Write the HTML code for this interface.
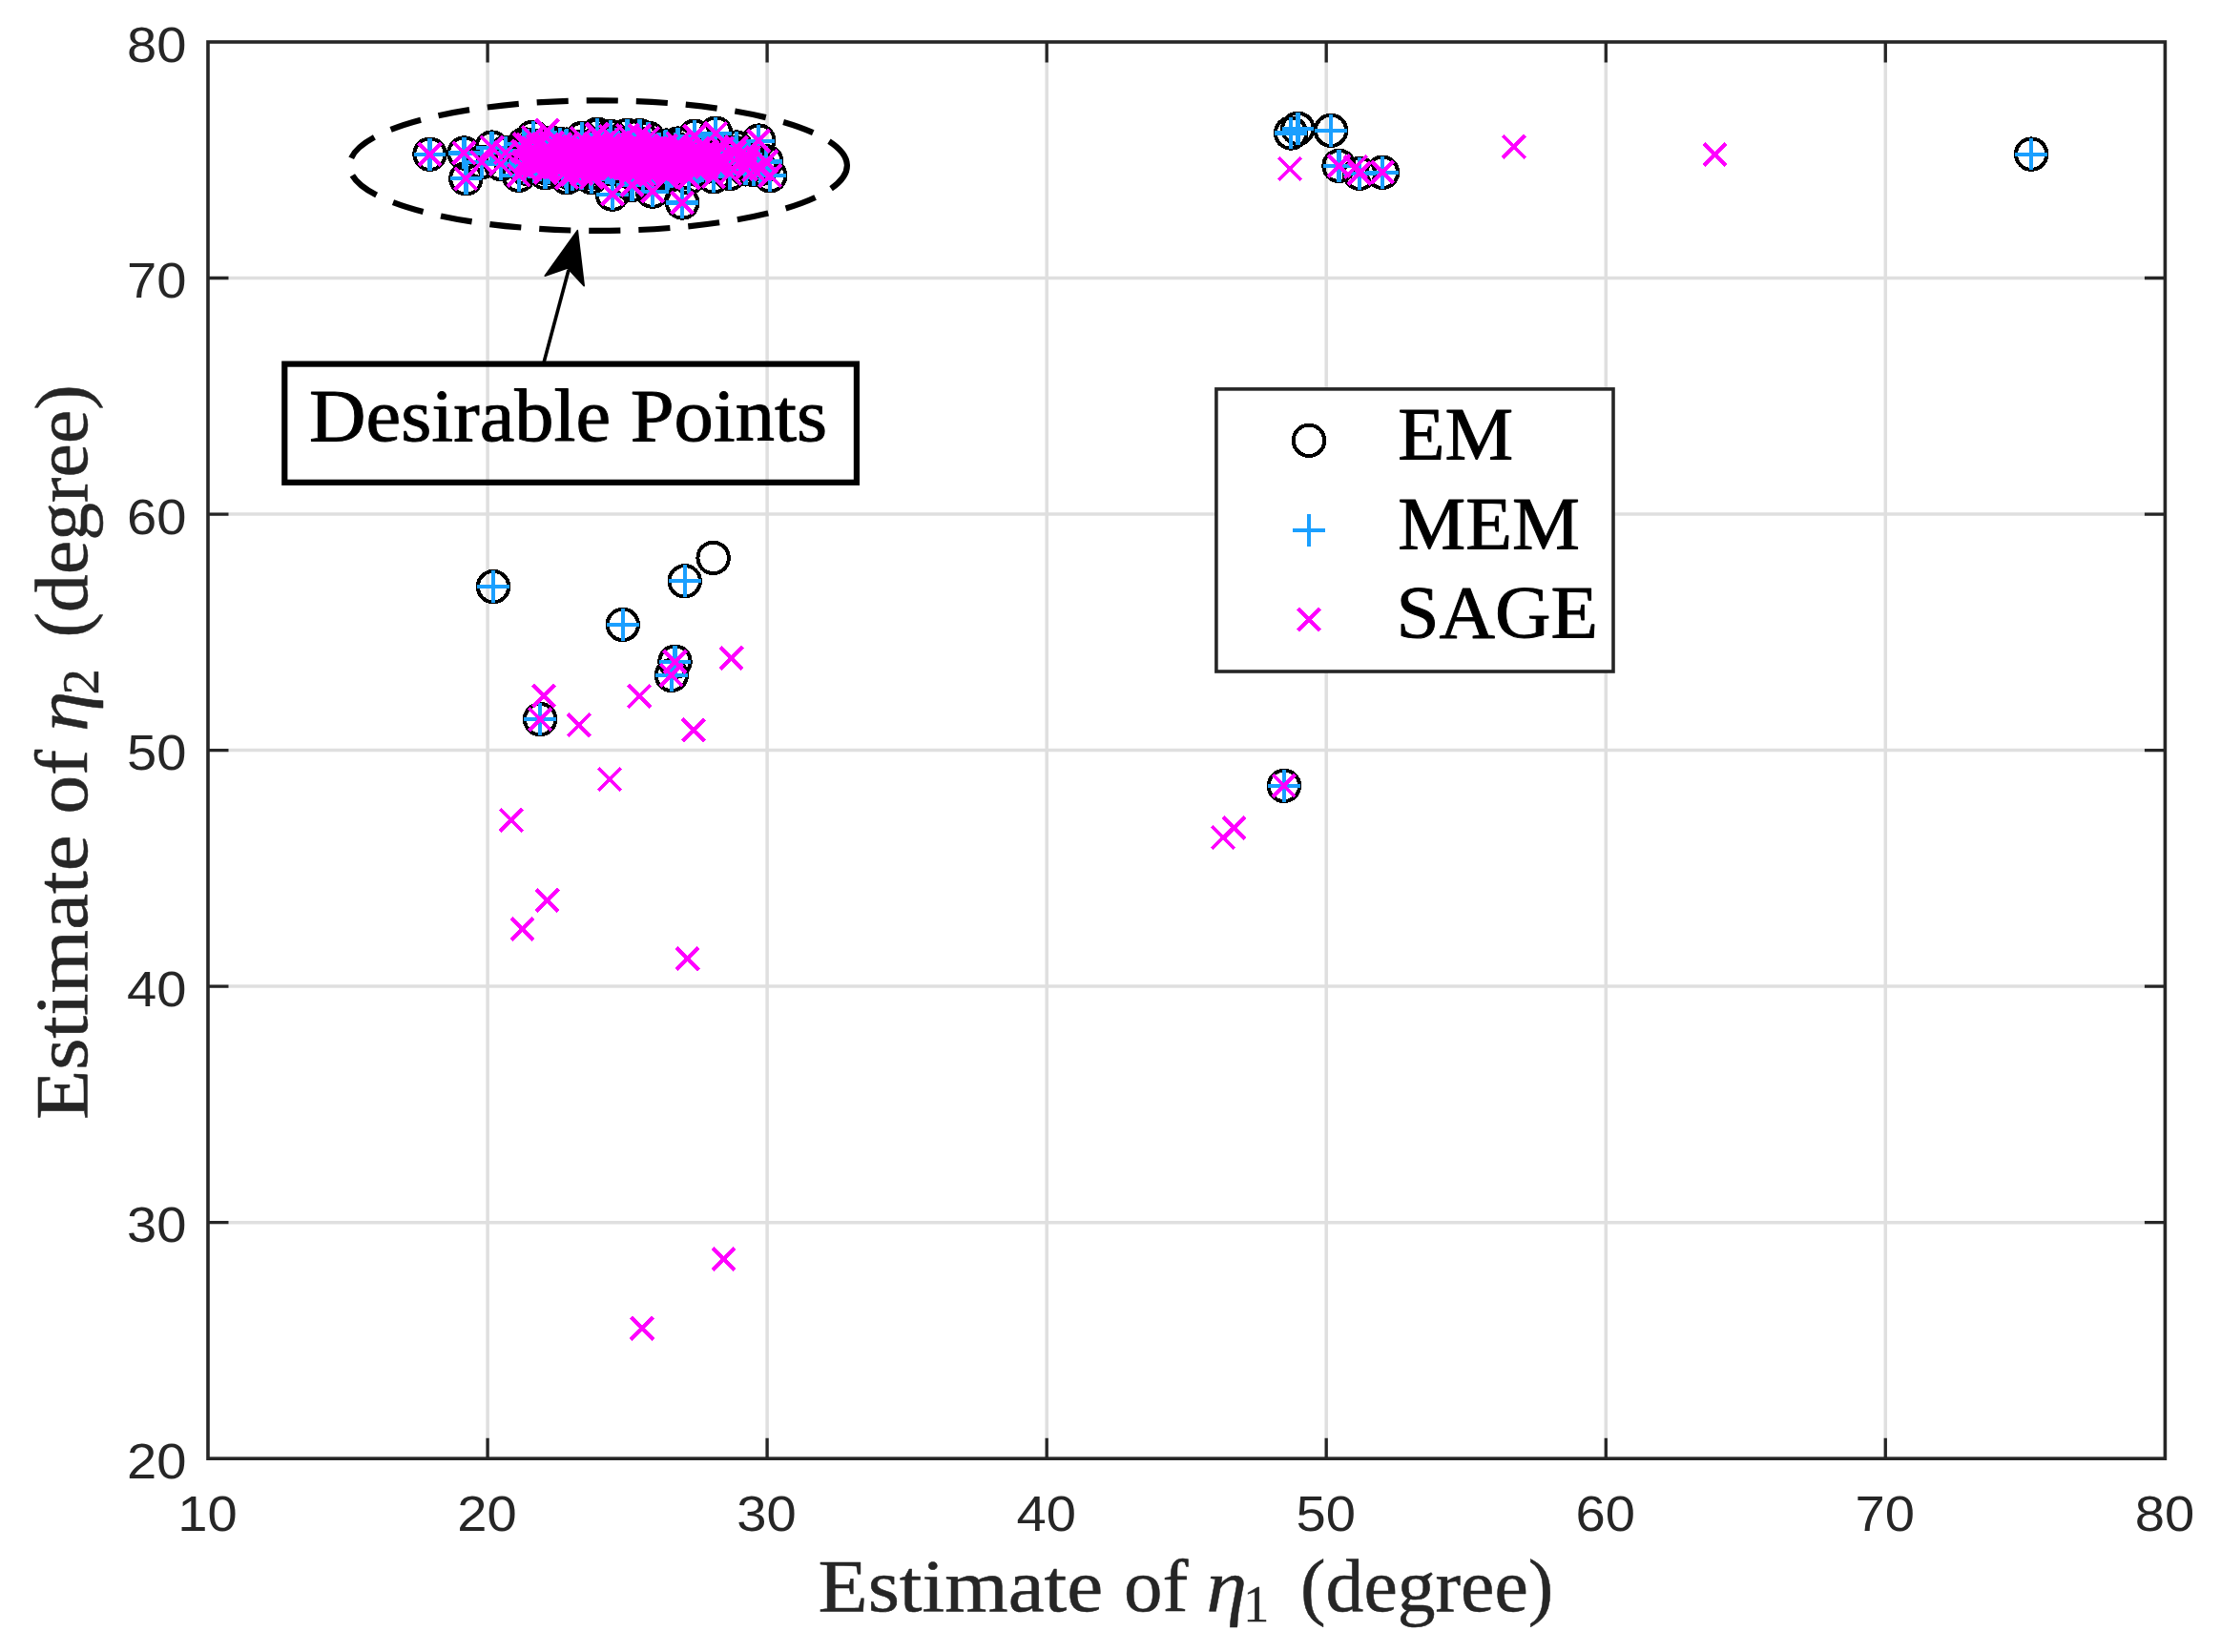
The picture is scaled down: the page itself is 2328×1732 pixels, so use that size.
<!DOCTYPE html>
<html lang="en"><head><meta charset="utf-8"><title>Estimate of eta1 vs eta2</title>
<style>html,body{margin:0;padding:0;background:#fff}body{width:2328px;height:1732px;overflow:hidden}svg{display:block}.tk{font-family:"Liberation Sans",sans-serif;font-size:52.5px;fill:#262626}.sf{font-family:"Liberation Serif",serif;font-size:78px;stroke-width:0.9px;stroke-linejoin:round}.k{stroke:#000}.lb .sf{stroke-width:0.5px}</style></head><body>
<svg width="2328" height="1732" viewBox="0 0 2328 1732">
<defs>
<circle id="c" r="16.2" fill="none" stroke="#000" stroke-width="4.0"/>
<path id="p" d="M-16.8 0H16.8M0 -16.8V16.8" fill="none" stroke="#1a9fff" stroke-width="4.2"/>
<path id="x" d="M-11.6 -11.6L11.6 11.6M-11.6 11.6L11.6 -11.6" fill="none" stroke="#ff00ff" stroke-width="4.1"/>
</defs>
<rect width="2328" height="1732" fill="#fff"/>
<path d="M511.1 44.0V1529.2M804.1 44.0V1529.2M1097.2 44.0V1529.2M1390.2 44.0V1529.2M1683.3 44.0V1529.2M1976.3 44.0V1529.2M218.0 1281.7H2269.4M218.0 1034.1H2269.4M218.0 786.6H2269.4M218.0 539.1H2269.4M218.0 291.5H2269.4" stroke="#dfdfdf" stroke-width="3.5" fill="none"/>
<path d="M511.1 1529.2v-21.5M511.1 44.0v21.5M804.1 1529.2v-21.5M804.1 44.0v21.5M1097.2 1529.2v-21.5M1097.2 44.0v21.5M1390.2 1529.2v-21.5M1390.2 44.0v21.5M1683.3 1529.2v-21.5M1683.3 44.0v21.5M1976.3 1529.2v-21.5M1976.3 44.0v21.5M218.0 1281.7h21.5M2269.4 1281.7h-21.5M218.0 1034.1h21.5M2269.4 1034.1h-21.5M218.0 786.6h21.5M2269.4 786.6h-21.5M218.0 539.1h21.5M2269.4 539.1h-21.5M218.0 291.5h21.5M2269.4 291.5h-21.5" stroke="#262626" stroke-width="3.3" fill="none"/>
<rect x="218.0" y="44.0" width="2051.4" height="1485.2" fill="none" stroke="#262626" stroke-width="3.6"/>
<g shape-rendering="crispEdges"><use href="#c" x="450.5" y="161.7"/><use href="#c" x="486.4" y="160.5"/><use href="#c" x="488.4" y="187.3"/><use href="#c" x="515.6" y="154.6"/><use href="#c" x="558.7" y="143.7"/><use href="#c" x="543.8" y="183.8"/><use href="#c" x="571.6" y="181.3"/><use href="#c" x="594.3" y="186.3"/><use href="#c" x="626.0" y="141.7"/><use href="#c" x="547.8" y="158.5"/><use href="#c" x="593.4" y="152.6"/><use href="#c" x="641.8" y="203.6"/><use href="#c" x="683.9" y="200.6"/><use href="#c" x="715.1" y="212.5"/><use href="#c" x="747.8" y="185.3"/><use href="#c" x="807.2" y="184.3"/><use href="#c" x="781.5" y="177.4"/><use href="#c" x="728.0" y="142.7"/><use href="#c" x="750.3" y="139.7"/><use href="#c" x="795.3" y="147.6"/><use href="#c" x="803.3" y="169.4"/><use href="#c" x="626.0" y="140.7"/><use href="#c" x="657.6" y="141.7"/><use href="#c" x="670.5" y="142.2"/><use href="#c" x="679.4" y="144.7"/><use href="#c" x="698.3" y="152.6"/><use href="#c" x="662.6" y="194.0"/><use href="#c" x="722.0" y="186.3"/><use href="#c" x="699.0" y="185.3"/><use href="#c" x="505.0" y="170.0"/><use href="#c" x="525.0" y="172.0"/><use href="#c" x="530.0" y="160.0"/><use href="#c" x="610.0" y="145.0"/><use href="#c" x="640.0" y="143.0"/><use href="#c" x="770.0" y="160.0"/><use href="#c" x="785.0" y="165.0"/><use href="#c" x="790.0" y="178.0"/><use href="#c" x="765.0" y="182.0"/><use href="#c" x="600.0" y="183.0"/><use href="#c" x="620.0" y="186.0"/><use href="#c" x="633.7" y="169.3"/><use href="#c" x="635.3" y="163.5"/><use href="#c" x="595.9" y="163.4"/><use href="#c" x="710.3" y="170.2"/><use href="#c" x="706.1" y="168.9"/><use href="#c" x="670.1" y="167.7"/><use href="#c" x="554.7" y="170.1"/><use href="#c" x="676.4" y="170.0"/><use href="#c" x="553.3" y="151.9"/><use href="#c" x="598.2" y="161.7"/><use href="#c" x="665.1" y="166.0"/><use href="#c" x="677.2" y="162.0"/><use href="#c" x="665.3" y="169.1"/><use href="#c" x="611.0" y="177.2"/><use href="#c" x="679.2" y="175.0"/><use href="#c" x="613.3" y="160.1"/><use href="#c" x="628.7" y="164.8"/><use href="#c" x="683.4" y="168.4"/><use href="#c" x="622.9" y="158.8"/><use href="#c" x="618.8" y="173.9"/><use href="#c" x="602.8" y="166.8"/><use href="#c" x="671.9" y="156.0"/><use href="#c" x="650.7" y="175.2"/><use href="#c" x="630.0" y="164.9"/><use href="#c" x="602.2" y="168.5"/><use href="#c" x="644.5" y="155.6"/><use href="#c" x="694.4" y="171.6"/><use href="#c" x="701.0" y="177.1"/><use href="#c" x="668.3" y="167.2"/><use href="#c" x="575.2" y="168.8"/><use href="#c" x="613.7" y="162.1"/><use href="#c" x="577.2" y="157.8"/><use href="#c" x="618.3" y="174.4"/><use href="#c" x="566.4" y="166.0"/><use href="#c" x="728.8" y="171.6"/><use href="#c" x="668.0" y="161.2"/><use href="#c" x="585.3" y="171.5"/><use href="#c" x="709.7" y="168.3"/><use href="#c" x="661.8" y="169.3"/><use href="#c" x="737.3" y="172.1"/><use href="#c" x="677.0" y="170.4"/><use href="#c" x="560.2" y="173.2"/><use href="#c" x="701.5" y="170.7"/><use href="#c" x="612.5" y="171.1"/><use href="#c" x="637.7" y="172.9"/><use href="#c" x="574.6" y="175.8"/><use href="#c" x="678.9" y="165.5"/><use href="#c" x="666.2" y="170.9"/><use href="#c" x="654.7" y="174.1"/><use href="#c" x="611.0" y="162.3"/><use href="#c" x="706.3" y="167.3"/><use href="#c" x="598.7" y="171.6"/><use href="#c" x="730.1" y="164.5"/><use href="#c" x="570.7" y="163.5"/><use href="#c" x="639.7" y="163.7"/><use href="#c" x="726.7" y="160.3"/><use href="#c" x="718.6" y="158.5"/><use href="#c" x="603.9" y="169.5"/><use href="#c" x="711.2" y="173.2"/><use href="#c" x="667.3" y="167.3"/><use href="#c" x="656.5" y="170.2"/><use href="#c" x="638.1" y="167.7"/><use href="#c" x="680.1" y="166.6"/><use href="#c" x="690.8" y="170.8"/><use href="#c" x="760.6" y="170.5"/><use href="#c" x="624.1" y="162.9"/><use href="#c" x="647.3" y="172.4"/><use href="#c" x="629.2" y="168.3"/><use href="#c" x="585.1" y="166.4"/><use href="#c" x="670.3" y="168.1"/><use href="#c" x="623.9" y="170.1"/><use href="#c" x="663.8" y="162.6"/><use href="#c" x="784.1" y="171.2"/><use href="#c" x="617.0" y="164.6"/><use href="#c" x="635.4" y="165.3"/><use href="#c" x="620.7" y="172.5"/><use href="#c" x="582.6" y="164.2"/><use href="#c" x="701.4" y="173.0"/><use href="#c" x="731.5" y="155.7"/><use href="#c" x="628.2" y="163.2"/><use href="#c" x="682.9" y="174.3"/><use href="#c" x="709.0" y="157.0"/><use href="#c" x="686.3" y="156.3"/><use href="#c" x="657.8" y="174.5"/><use href="#c" x="639.6" y="167.1"/><use href="#c" x="692.6" y="167.8"/><use href="#c" x="643.0" y="176.6"/><use href="#c" x="706.7" y="165.1"/><use href="#c" x="583.8" y="171.1"/><use href="#c" x="633.1" y="166.6"/><use href="#c" x="687.5" y="168.3"/><use href="#c" x="683.8" y="156.0"/><use href="#c" x="563.5" y="168.6"/><use href="#c" x="594.1" y="157.7"/><use href="#c" x="565.7" y="173.2"/><use href="#c" x="689.8" y="177.1"/><use href="#c" x="595.5" y="164.9"/><use href="#c" x="584.1" y="170.0"/><use href="#c" x="737.0" y="161.5"/><use href="#c" x="735.4" y="174.6"/><use href="#c" x="638.0" y="152.0"/><use href="#c" x="726.8" y="166.9"/><use href="#c" x="614.2" y="168.1"/><use href="#c" x="671.0" y="176.9"/><use href="#c" x="590.9" y="172.8"/><use href="#c" x="731.3" y="177.8"/><use href="#c" x="637.9" y="160.5"/><use href="#c" x="705.0" y="167.9"/><use href="#c" x="655.0" y="176.1"/><use href="#c" x="633.2" y="149.6"/><use href="#c" x="626.3" y="152.5"/><use href="#c" x="693.9" y="169.1"/><use href="#c" x="613.8" y="165.2"/><use href="#c" x="694.6" y="167.4"/><use href="#c" x="722.3" y="167.0"/><use href="#c" x="706.3" y="177.6"/><use href="#c" x="738.2" y="163.1"/><use href="#c" x="697.3" y="153.8"/><use href="#c" x="587.3" y="151.0"/><use href="#c" x="707.9" y="158.5"/><use href="#c" x="647.3" y="164.6"/><use href="#c" x="646.4" y="161.8"/><use href="#c" x="661.1" y="178.8"/><use href="#c" x="650.5" y="169.7"/><use href="#c" x="704.0" y="165.7"/><use href="#c" x="577.5" y="160.7"/><use href="#c" x="708.1" y="155.6"/><use href="#c" x="614.5" y="172.3"/><use href="#c" x="692.4" y="166.9"/><use href="#c" x="693.1" y="168.0"/><use href="#c" x="582.0" y="153.7"/><use href="#c" x="612.2" y="171.7"/><use href="#c" x="616.3" y="159.0"/><use href="#c" x="604.8" y="154.4"/><use href="#c" x="641.4" y="157.6"/><use href="#c" x="668.4" y="149.8"/><use href="#c" x="666.4" y="161.8"/><use href="#c" x="688.6" y="164.8"/><use href="#c" x="599.0" y="167.0"/><use href="#c" x="622.3" y="170.9"/><use href="#c" x="689.9" y="171.5"/><use href="#c" x="666.3" y="175.7"/><use href="#c" x="685.0" y="169.9"/><use href="#c" x="698.2" y="176.1"/><use href="#c" x="631.4" y="162.3"/><use href="#c" x="756.7" y="155.8"/><use href="#c" x="674.3" y="183.5"/><use href="#c" x="596.1" y="169.7"/><use href="#c" x="753.6" y="167.2"/><use href="#c" x="679.4" y="172.9"/><use href="#c" x="597.3" y="164.3"/><use href="#c" x="664.4" y="172.1"/><use href="#c" x="646.1" y="164.6"/><use href="#c" x="591.1" y="162.3"/><use href="#c" x="697.9" y="167.7"/><use href="#c" x="600.2" y="159.1"/><use href="#c" x="797.3" y="176.9"/><use href="#c" x="682.8" y="170.0"/><use href="#c" x="742.3" y="170.8"/><use href="#c" x="644.2" y="169.5"/><use href="#c" x="705.9" y="169.4"/><use href="#c" x="608.7" y="174.5"/><use href="#c" x="749.3" y="158.2"/><use href="#c" x="610.7" y="167.3"/><use href="#c" x="658.3" y="163.4"/><use href="#c" x="593.4" y="179.7"/><use href="#c" x="706.1" y="158.8"/><use href="#c" x="572.7" y="176.4"/><use href="#c" x="703.4" y="179.8"/><use href="#c" x="693.4" y="160.8"/><use href="#c" x="662.6" y="151.1"/><use href="#c" x="606.1" y="164.7"/><use href="#c" x="677.3" y="161.5"/><use href="#c" x="641.0" y="169.0"/><use href="#c" x="669.1" y="170.8"/><use href="#c" x="659.7" y="163.9"/><use href="#c" x="692.2" y="167.2"/><use href="#c" x="601.7" y="160.7"/><use href="#c" x="648.0" y="165.2"/><use href="#c" x="656.8" y="166.1"/><use href="#c" x="657.8" y="165.2"/><use href="#c" x="577.5" y="167.5"/><use href="#c" x="707.0" y="170.2"/><use href="#c" x="637.4" y="168.9"/><use href="#c" x="593.9" y="151.6"/><use href="#c" x="651.3" y="159.5"/><use href="#c" x="689.4" y="159.2"/><use href="#c" x="589.8" y="175.8"/><use href="#c" x="626.6" y="155.9"/><use href="#c" x="605.3" y="168.8"/><use href="#c" x="675.8" y="167.8"/><use href="#c" x="731.1" y="172.6"/><use href="#c" x="646.8" y="170.1"/><use href="#c" x="740.7" y="174.6"/><use href="#c" x="705.3" y="159.5"/><use href="#c" x="639.7" y="170.9"/><use href="#c" x="631.4" y="173.1"/><use href="#c" x="681.4" y="173.0"/><use href="#c" x="717.4" y="165.8"/><use href="#c" x="628.8" y="171.7"/><use href="#c" x="702.9" y="167.1"/><use href="#c" x="582.6" y="166.0"/><use href="#c" x="668.1" y="174.3"/><use href="#c" x="691.8" y="167.0"/><use href="#c" x="695.8" y="170.7"/><use href="#c" x="659.5" y="166.6"/><use href="#c" x="634.4" y="170.5"/><use href="#c" x="589.0" y="160.4"/><use href="#c" x="648.3" y="155.7"/><use href="#c" x="623.6" y="151.4"/><use href="#c" x="609.8" y="169.2"/><use href="#c" x="679.7" y="166.2"/><use href="#c" x="635.0" y="155.8"/><use href="#c" x="750.4" y="171.6"/><use href="#c" x="709.2" y="161.0"/><use href="#c" x="637.6" y="153.0"/><use href="#c" x="691.7" y="173.4"/><use href="#c" x="645.1" y="170.3"/><use href="#c" x="549.3" y="151.2"/><use href="#c" x="588.4" y="160.4"/><use href="#c" x="569.4" y="164.6"/><use href="#c" x="662.0" y="170.7"/><use href="#c" x="687.3" y="177.3"/><use href="#c" x="713.2" y="158.1"/><use href="#c" x="619.7" y="158.0"/><use href="#c" x="587.7" y="164.2"/><use href="#c" x="648.3" y="169.4"/><use href="#c" x="559.1" y="155.5"/><use href="#c" x="646.7" y="164.5"/><use href="#c" x="630.6" y="165.2"/><use href="#c" x="605.5" y="170.0"/><use href="#c" x="667.8" y="165.7"/><use href="#c" x="610.4" y="164.0"/><use href="#c" x="593.0" y="165.1"/><use href="#c" x="563.8" y="165.7"/><use href="#c" x="656.3" y="156.5"/><use href="#c" x="634.0" y="163.5"/><use href="#c" x="673.8" y="170.8"/><use href="#c" x="646.0" y="160.0"/><use href="#c" x="639.9" y="165.3"/><use href="#c" x="689.1" y="168.8"/><use href="#c" x="607.5" y="155.7"/><use href="#c" x="627.1" y="160.4"/><use href="#c" x="585.7" y="163.9"/><use href="#c" x="620.5" y="166.1"/><use href="#c" x="677.3" y="163.7"/><use href="#c" x="778.2" y="166.3"/><use href="#c" x="709.7" y="168.0"/><use href="#c" x="710.5" y="150.6"/><use href="#c" x="605.9" y="166.8"/><use href="#c" x="681.7" y="183.0"/><use href="#c" x="666.1" y="175.3"/><use href="#c" x="690.9" y="173.5"/><use href="#c" x="676.6" y="165.4"/><use href="#c" x="676.5" y="159.0"/><use href="#c" x="714.2" y="160.2"/><use href="#c" x="662.0" y="181.1"/><use href="#c" x="635.5" y="165.8"/><use href="#c" x="713.1" y="167.4"/><use href="#c" x="602.8" y="166.9"/><use href="#c" x="680.6" y="171.6"/><use href="#c" x="604.7" y="177.4"/><use href="#c" x="741.3" y="168.0"/><use href="#c" x="663.0" y="163.3"/><use href="#c" x="727.2" y="162.6"/><use href="#c" x="685.7" y="163.4"/><use href="#c" x="609.1" y="170.2"/><use href="#c" x="722.7" y="167.4"/><use href="#c" x="610.1" y="170.9"/><use href="#c" x="645.2" y="168.1"/><use href="#c" x="733.3" y="175.6"/><use href="#c" x="618.9" y="181.4"/><use href="#c" x="648.2" y="171.5"/><use href="#c" x="611.7" y="164.9"/><use href="#c" x="550.0" y="176.5"/><use href="#c" x="724.5" y="159.0"/><use href="#c" x="563.7" y="152.9"/><use href="#c" x="713.8" y="164.1"/><use href="#c" x="644.6" y="163.7"/><use href="#c" x="641.2" y="158.2"/><use href="#c" x="649.4" y="155.9"/><use href="#c" x="644.0" y="168.0"/><use href="#c" x="674.2" y="164.9"/><use href="#c" x="597.4" y="166.1"/><use href="#c" x="620.9" y="176.4"/><use href="#c" x="691.0" y="166.0"/><use href="#c" x="621.6" y="160.5"/><use href="#c" x="595.5" y="162.4"/><use href="#c" x="664.5" y="169.9"/><use href="#c" x="679.9" y="181.3"/><use href="#c" x="608.5" y="165.3"/><use href="#c" x="618.8" y="166.6"/><use href="#c" x="656.6" y="169.0"/><use href="#c" x="634.6" y="168.3"/><use href="#c" x="651.0" y="171.4"/><use href="#c" x="598.4" y="165.0"/><use href="#c" x="590.2" y="157.5"/><use href="#c" x="683.2" y="162.1"/><use href="#c" x="683.6" y="171.9"/><use href="#c" x="665.2" y="169.9"/><use href="#c" x="642.1" y="156.0"/><use href="#c" x="646.3" y="169.1"/><use href="#c" x="618.4" y="164.7"/><use href="#c" x="690.0" y="160.7"/><use href="#c" x="683.8" y="179.7"/><use href="#c" x="616.9" y="166.4"/><use href="#c" x="639.6" y="176.6"/><use href="#c" x="665.7" y="172.6"/><use href="#c" x="609.4" y="165.1"/><use href="#c" x="647.4" y="153.5"/><use href="#c" x="728.7" y="173.9"/><use href="#c" x="550.0" y="169.2"/><use href="#c" x="640.7" y="169.0"/><use href="#c" x="668.5" y="155.9"/><use href="#c" x="636.1" y="176.2"/><use href="#c" x="615.8" y="158.2"/><use href="#c" x="571.9" y="155.9"/><use href="#c" x="666.8" y="178.2"/><use href="#c" x="672.0" y="168.2"/><use href="#c" x="773.1" y="164.8"/><use href="#c" x="610.3" y="168.9"/><use href="#c" x="678.7" y="159.5"/><use href="#c" x="582.5" y="166.7"/><use href="#c" x="661.9" y="157.1"/><use href="#c" x="636.7" y="161.9"/><use href="#c" x="673.8" y="165.7"/><use href="#c" x="643.2" y="163.4"/><use href="#c" x="707.0" y="176.9"/><use href="#c" x="627.4" y="171.5"/><use href="#c" x="605.6" y="165.6"/><use href="#c" x="690.0" y="177.4"/><use href="#c" x="626.6" y="165.0"/><use href="#c" x="659.0" y="155.7"/><use href="#c" x="648.9" y="161.2"/><use href="#c" x="668.8" y="158.5"/><use href="#c" x="650.1" y="167.8"/><use href="#c" x="617.3" y="171.6"/><use href="#c" x="632.7" y="161.4"/><use href="#c" x="674.8" y="155.5"/><use href="#c" x="610.1" y="165.1"/><use href="#c" x="695.5" y="165.8"/><use href="#c" x="665.3" y="161.7"/><use href="#c" x="664.9" y="177.9"/><use href="#c" x="609.6" y="181.8"/><use href="#c" x="611.9" y="165.4"/><use href="#c" x="657.7" y="173.3"/><use href="#c" x="578.7" y="149.9"/><use href="#c" x="681.9" y="172.2"/><use href="#c" x="659.5" y="168.0"/><use href="#c" x="700.0" y="169.6"/><use href="#c" x="741.2" y="159.2"/><use href="#c" x="693.5" y="164.3"/><use href="#c" x="699.7" y="182.1"/><use href="#c" x="647.7" y="164.2"/><use href="#c" x="620.0" y="159.5"/><use href="#c" x="612.7" y="169.7"/><use href="#c" x="650.1" y="166.5"/><use href="#c" x="638.3" y="172.2"/><use href="#c" x="675.7" y="165.5"/><use href="#c" x="685.2" y="165.6"/><use href="#c" x="583.4" y="174.9"/><use href="#c" x="674.1" y="159.8"/><use href="#c" x="708.4" y="169.6"/><use href="#c" x="560.4" y="175.5"/><use href="#c" x="666.7" y="172.6"/><use href="#c" x="659.1" y="165.1"/><use href="#c" x="561.3" y="171.0"/><use href="#c" x="649.7" y="164.0"/><use href="#c" x="667.7" y="166.9"/><use href="#c" x="685.8" y="164.1"/><use href="#c" x="646.0" y="150.9"/><use href="#c" x="624.3" y="170.2"/><use href="#c" x="722.9" y="164.9"/><use href="#c" x="641.2" y="176.9"/><use href="#c" x="629.8" y="170.7"/><use href="#c" x="742.0" y="168.1"/><use href="#c" x="716.7" y="162.4"/><use href="#c" x="659.6" y="165.7"/><use href="#c" x="654.4" y="174.0"/><use href="#c" x="781.8" y="164.0"/><use href="#c" x="615.8" y="168.8"/><use href="#c" x="588.9" y="168.3"/><use href="#c" x="680.0" y="164.7"/><use href="#c" x="677.7" y="155.7"/><use href="#c" x="690.6" y="156.0"/><use href="#c" x="609.0" y="161.3"/><use href="#c" x="625.5" y="171.5"/><use href="#c" x="652.6" y="163.3"/><use href="#c" x="678.4" y="177.6"/><use href="#c" x="648.3" y="168.5"/><use href="#c" x="717.4" y="169.2"/><use href="#c" x="771.7" y="154.5"/><use href="#c" x="645.8" y="168.8"/><use href="#c" x="702.1" y="171.7"/><use href="#c" x="632.8" y="158.3"/><use href="#c" x="653.8" y="173.3"/><use href="#c" x="587.0" y="157.5"/><use href="#c" x="646.6" y="152.4"/><use href="#c" x="633.4" y="162.6"/><use href="#c" x="673.2" y="161.6"/><use href="#c" x="517.0" y="615.1"/><use href="#c" x="747.6" y="584.9"/><use href="#c" x="717.7" y="609.3"/><use href="#c" x="652.8" y="654.9"/><use href="#c" x="707.5" y="693.7"/><use href="#c" x="703.9" y="707.9"/><use href="#c" x="566.1" y="754.1"/><use href="#c" x="1345.9" y="823.9"/><use href="#c" x="1353.1" y="139.5"/><use href="#c" x="1360.4" y="134.8"/><use href="#c" x="1395.0" y="136.9"/><use href="#c" x="1403.5" y="173.9"/><use href="#c" x="1425.0" y="181.9"/><use href="#c" x="1449.0" y="180.8"/><use href="#c" x="2129.2" y="161.6"/></g>
<g shape-rendering="crispEdges"><use href="#p" x="450.5" y="161.7"/><use href="#p" x="486.4" y="160.5"/><use href="#p" x="488.4" y="187.3"/><use href="#p" x="515.6" y="154.6"/><use href="#p" x="558.7" y="143.7"/><use href="#p" x="543.8" y="183.8"/><use href="#p" x="571.6" y="181.3"/><use href="#p" x="594.3" y="186.3"/><use href="#p" x="626.0" y="141.7"/><use href="#p" x="547.8" y="158.5"/><use href="#p" x="593.4" y="152.6"/><use href="#p" x="641.8" y="203.6"/><use href="#p" x="683.9" y="200.6"/><use href="#p" x="715.1" y="212.5"/><use href="#p" x="747.8" y="185.3"/><use href="#p" x="807.2" y="184.3"/><use href="#p" x="781.5" y="177.4"/><use href="#p" x="728.0" y="142.7"/><use href="#p" x="750.3" y="139.7"/><use href="#p" x="795.3" y="147.6"/><use href="#p" x="803.3" y="169.4"/><use href="#p" x="626.0" y="140.7"/><use href="#p" x="657.6" y="141.7"/><use href="#p" x="670.5" y="142.2"/><use href="#p" x="679.4" y="144.7"/><use href="#p" x="698.3" y="152.6"/><use href="#p" x="662.6" y="194.0"/><use href="#p" x="722.0" y="186.3"/><use href="#p" x="699.0" y="185.3"/><use href="#p" x="505.0" y="170.0"/><use href="#p" x="525.0" y="172.0"/><use href="#p" x="530.0" y="160.0"/><use href="#p" x="610.0" y="145.0"/><use href="#p" x="640.0" y="143.0"/><use href="#p" x="770.0" y="160.0"/><use href="#p" x="785.0" y="165.0"/><use href="#p" x="790.0" y="178.0"/><use href="#p" x="765.0" y="182.0"/><use href="#p" x="600.0" y="183.0"/><use href="#p" x="620.0" y="186.0"/><use href="#p" x="633.7" y="169.3"/><use href="#p" x="635.3" y="163.5"/><use href="#p" x="595.9" y="163.4"/><use href="#p" x="710.3" y="170.2"/><use href="#p" x="706.1" y="168.9"/><use href="#p" x="670.1" y="167.7"/><use href="#p" x="554.7" y="170.1"/><use href="#p" x="676.4" y="170.0"/><use href="#p" x="553.3" y="151.9"/><use href="#p" x="598.2" y="161.7"/><use href="#p" x="665.1" y="166.0"/><use href="#p" x="677.2" y="162.0"/><use href="#p" x="665.3" y="169.1"/><use href="#p" x="611.0" y="177.2"/><use href="#p" x="679.2" y="175.0"/><use href="#p" x="613.3" y="160.1"/><use href="#p" x="628.7" y="164.8"/><use href="#p" x="683.4" y="168.4"/><use href="#p" x="622.9" y="158.8"/><use href="#p" x="618.8" y="173.9"/><use href="#p" x="602.8" y="166.8"/><use href="#p" x="671.9" y="156.0"/><use href="#p" x="650.7" y="175.2"/><use href="#p" x="630.0" y="164.9"/><use href="#p" x="602.2" y="168.5"/><use href="#p" x="644.5" y="155.6"/><use href="#p" x="694.4" y="171.6"/><use href="#p" x="701.0" y="177.1"/><use href="#p" x="668.3" y="167.2"/><use href="#p" x="575.2" y="168.8"/><use href="#p" x="613.7" y="162.1"/><use href="#p" x="577.2" y="157.8"/><use href="#p" x="618.3" y="174.4"/><use href="#p" x="566.4" y="166.0"/><use href="#p" x="728.8" y="171.6"/><use href="#p" x="668.0" y="161.2"/><use href="#p" x="585.3" y="171.5"/><use href="#p" x="709.7" y="168.3"/><use href="#p" x="661.8" y="169.3"/><use href="#p" x="737.3" y="172.1"/><use href="#p" x="677.0" y="170.4"/><use href="#p" x="560.2" y="173.2"/><use href="#p" x="701.5" y="170.7"/><use href="#p" x="612.5" y="171.1"/><use href="#p" x="637.7" y="172.9"/><use href="#p" x="574.6" y="175.8"/><use href="#p" x="678.9" y="165.5"/><use href="#p" x="666.2" y="170.9"/><use href="#p" x="654.7" y="174.1"/><use href="#p" x="611.0" y="162.3"/><use href="#p" x="706.3" y="167.3"/><use href="#p" x="598.7" y="171.6"/><use href="#p" x="730.1" y="164.5"/><use href="#p" x="570.7" y="163.5"/><use href="#p" x="639.7" y="163.7"/><use href="#p" x="726.7" y="160.3"/><use href="#p" x="718.6" y="158.5"/><use href="#p" x="603.9" y="169.5"/><use href="#p" x="711.2" y="173.2"/><use href="#p" x="667.3" y="167.3"/><use href="#p" x="656.5" y="170.2"/><use href="#p" x="638.1" y="167.7"/><use href="#p" x="680.1" y="166.6"/><use href="#p" x="690.8" y="170.8"/><use href="#p" x="760.6" y="170.5"/><use href="#p" x="624.1" y="162.9"/><use href="#p" x="647.3" y="172.4"/><use href="#p" x="629.2" y="168.3"/><use href="#p" x="585.1" y="166.4"/><use href="#p" x="670.3" y="168.1"/><use href="#p" x="623.9" y="170.1"/><use href="#p" x="663.8" y="162.6"/><use href="#p" x="784.1" y="171.2"/><use href="#p" x="617.0" y="164.6"/><use href="#p" x="635.4" y="165.3"/><use href="#p" x="620.7" y="172.5"/><use href="#p" x="582.6" y="164.2"/><use href="#p" x="701.4" y="173.0"/><use href="#p" x="731.5" y="155.7"/><use href="#p" x="628.2" y="163.2"/><use href="#p" x="682.9" y="174.3"/><use href="#p" x="709.0" y="157.0"/><use href="#p" x="686.3" y="156.3"/><use href="#p" x="657.8" y="174.5"/><use href="#p" x="639.6" y="167.1"/><use href="#p" x="692.6" y="167.8"/><use href="#p" x="643.0" y="176.6"/><use href="#p" x="706.7" y="165.1"/><use href="#p" x="583.8" y="171.1"/><use href="#p" x="633.1" y="166.6"/><use href="#p" x="687.5" y="168.3"/><use href="#p" x="683.8" y="156.0"/><use href="#p" x="563.5" y="168.6"/><use href="#p" x="594.1" y="157.7"/><use href="#p" x="565.7" y="173.2"/><use href="#p" x="689.8" y="177.1"/><use href="#p" x="595.5" y="164.9"/><use href="#p" x="584.1" y="170.0"/><use href="#p" x="737.0" y="161.5"/><use href="#p" x="735.4" y="174.6"/><use href="#p" x="638.0" y="152.0"/><use href="#p" x="726.8" y="166.9"/><use href="#p" x="614.2" y="168.1"/><use href="#p" x="671.0" y="176.9"/><use href="#p" x="590.9" y="172.8"/><use href="#p" x="731.3" y="177.8"/><use href="#p" x="637.9" y="160.5"/><use href="#p" x="705.0" y="167.9"/><use href="#p" x="655.0" y="176.1"/><use href="#p" x="633.2" y="149.6"/><use href="#p" x="626.3" y="152.5"/><use href="#p" x="693.9" y="169.1"/><use href="#p" x="613.8" y="165.2"/><use href="#p" x="694.6" y="167.4"/><use href="#p" x="722.3" y="167.0"/><use href="#p" x="706.3" y="177.6"/><use href="#p" x="738.2" y="163.1"/><use href="#p" x="697.3" y="153.8"/><use href="#p" x="587.3" y="151.0"/><use href="#p" x="707.9" y="158.5"/><use href="#p" x="647.3" y="164.6"/><use href="#p" x="646.4" y="161.8"/><use href="#p" x="661.1" y="178.8"/><use href="#p" x="650.5" y="169.7"/><use href="#p" x="704.0" y="165.7"/><use href="#p" x="577.5" y="160.7"/><use href="#p" x="708.1" y="155.6"/><use href="#p" x="614.5" y="172.3"/><use href="#p" x="692.4" y="166.9"/><use href="#p" x="693.1" y="168.0"/><use href="#p" x="582.0" y="153.7"/><use href="#p" x="612.2" y="171.7"/><use href="#p" x="616.3" y="159.0"/><use href="#p" x="604.8" y="154.4"/><use href="#p" x="641.4" y="157.6"/><use href="#p" x="668.4" y="149.8"/><use href="#p" x="666.4" y="161.8"/><use href="#p" x="688.6" y="164.8"/><use href="#p" x="599.0" y="167.0"/><use href="#p" x="622.3" y="170.9"/><use href="#p" x="689.9" y="171.5"/><use href="#p" x="666.3" y="175.7"/><use href="#p" x="685.0" y="169.9"/><use href="#p" x="698.2" y="176.1"/><use href="#p" x="631.4" y="162.3"/><use href="#p" x="756.7" y="155.8"/><use href="#p" x="674.3" y="183.5"/><use href="#p" x="596.1" y="169.7"/><use href="#p" x="753.6" y="167.2"/><use href="#p" x="679.4" y="172.9"/><use href="#p" x="597.3" y="164.3"/><use href="#p" x="664.4" y="172.1"/><use href="#p" x="646.1" y="164.6"/><use href="#p" x="591.1" y="162.3"/><use href="#p" x="697.9" y="167.7"/><use href="#p" x="600.2" y="159.1"/><use href="#p" x="797.3" y="176.9"/><use href="#p" x="682.8" y="170.0"/><use href="#p" x="742.3" y="170.8"/><use href="#p" x="644.2" y="169.5"/><use href="#p" x="705.9" y="169.4"/><use href="#p" x="608.7" y="174.5"/><use href="#p" x="749.3" y="158.2"/><use href="#p" x="610.7" y="167.3"/><use href="#p" x="658.3" y="163.4"/><use href="#p" x="593.4" y="179.7"/><use href="#p" x="706.1" y="158.8"/><use href="#p" x="572.7" y="176.4"/><use href="#p" x="703.4" y="179.8"/><use href="#p" x="693.4" y="160.8"/><use href="#p" x="662.6" y="151.1"/><use href="#p" x="606.1" y="164.7"/><use href="#p" x="677.3" y="161.5"/><use href="#p" x="641.0" y="169.0"/><use href="#p" x="669.1" y="170.8"/><use href="#p" x="659.7" y="163.9"/><use href="#p" x="692.2" y="167.2"/><use href="#p" x="601.7" y="160.7"/><use href="#p" x="648.0" y="165.2"/><use href="#p" x="656.8" y="166.1"/><use href="#p" x="657.8" y="165.2"/><use href="#p" x="577.5" y="167.5"/><use href="#p" x="707.0" y="170.2"/><use href="#p" x="637.4" y="168.9"/><use href="#p" x="593.9" y="151.6"/><use href="#p" x="651.3" y="159.5"/><use href="#p" x="689.4" y="159.2"/><use href="#p" x="589.8" y="175.8"/><use href="#p" x="626.6" y="155.9"/><use href="#p" x="605.3" y="168.8"/><use href="#p" x="675.8" y="167.8"/><use href="#p" x="731.1" y="172.6"/><use href="#p" x="646.8" y="170.1"/><use href="#p" x="740.7" y="174.6"/><use href="#p" x="705.3" y="159.5"/><use href="#p" x="639.7" y="170.9"/><use href="#p" x="631.4" y="173.1"/><use href="#p" x="681.4" y="173.0"/><use href="#p" x="717.4" y="165.8"/><use href="#p" x="628.8" y="171.7"/><use href="#p" x="702.9" y="167.1"/><use href="#p" x="582.6" y="166.0"/><use href="#p" x="668.1" y="174.3"/><use href="#p" x="691.8" y="167.0"/><use href="#p" x="695.8" y="170.7"/><use href="#p" x="659.5" y="166.6"/><use href="#p" x="634.4" y="170.5"/><use href="#p" x="589.0" y="160.4"/><use href="#p" x="648.3" y="155.7"/><use href="#p" x="623.6" y="151.4"/><use href="#p" x="609.8" y="169.2"/><use href="#p" x="679.7" y="166.2"/><use href="#p" x="635.0" y="155.8"/><use href="#p" x="750.4" y="171.6"/><use href="#p" x="709.2" y="161.0"/><use href="#p" x="637.6" y="153.0"/><use href="#p" x="691.7" y="173.4"/><use href="#p" x="645.1" y="170.3"/><use href="#p" x="549.3" y="151.2"/><use href="#p" x="588.4" y="160.4"/><use href="#p" x="569.4" y="164.6"/><use href="#p" x="662.0" y="170.7"/><use href="#p" x="687.3" y="177.3"/><use href="#p" x="713.2" y="158.1"/><use href="#p" x="619.7" y="158.0"/><use href="#p" x="587.7" y="164.2"/><use href="#p" x="648.3" y="169.4"/><use href="#p" x="559.1" y="155.5"/><use href="#p" x="646.7" y="164.5"/><use href="#p" x="630.6" y="165.2"/><use href="#p" x="605.5" y="170.0"/><use href="#p" x="667.8" y="165.7"/><use href="#p" x="610.4" y="164.0"/><use href="#p" x="593.0" y="165.1"/><use href="#p" x="563.8" y="165.7"/><use href="#p" x="656.3" y="156.5"/><use href="#p" x="634.0" y="163.5"/><use href="#p" x="673.8" y="170.8"/><use href="#p" x="646.0" y="160.0"/><use href="#p" x="639.9" y="165.3"/><use href="#p" x="689.1" y="168.8"/><use href="#p" x="607.5" y="155.7"/><use href="#p" x="627.1" y="160.4"/><use href="#p" x="585.7" y="163.9"/><use href="#p" x="620.5" y="166.1"/><use href="#p" x="677.3" y="163.7"/><use href="#p" x="778.2" y="166.3"/><use href="#p" x="709.7" y="168.0"/><use href="#p" x="710.5" y="150.6"/><use href="#p" x="605.9" y="166.8"/><use href="#p" x="681.7" y="183.0"/><use href="#p" x="666.1" y="175.3"/><use href="#p" x="690.9" y="173.5"/><use href="#p" x="676.6" y="165.4"/><use href="#p" x="676.5" y="159.0"/><use href="#p" x="714.2" y="160.2"/><use href="#p" x="662.0" y="181.1"/><use href="#p" x="635.5" y="165.8"/><use href="#p" x="713.1" y="167.4"/><use href="#p" x="602.8" y="166.9"/><use href="#p" x="680.6" y="171.6"/><use href="#p" x="604.7" y="177.4"/><use href="#p" x="741.3" y="168.0"/><use href="#p" x="663.0" y="163.3"/><use href="#p" x="727.2" y="162.6"/><use href="#p" x="685.7" y="163.4"/><use href="#p" x="609.1" y="170.2"/><use href="#p" x="722.7" y="167.4"/><use href="#p" x="610.1" y="170.9"/><use href="#p" x="645.2" y="168.1"/><use href="#p" x="733.3" y="175.6"/><use href="#p" x="618.9" y="181.4"/><use href="#p" x="648.2" y="171.5"/><use href="#p" x="611.7" y="164.9"/><use href="#p" x="550.0" y="176.5"/><use href="#p" x="724.5" y="159.0"/><use href="#p" x="563.7" y="152.9"/><use href="#p" x="713.8" y="164.1"/><use href="#p" x="644.6" y="163.7"/><use href="#p" x="641.2" y="158.2"/><use href="#p" x="649.4" y="155.9"/><use href="#p" x="644.0" y="168.0"/><use href="#p" x="674.2" y="164.9"/><use href="#p" x="597.4" y="166.1"/><use href="#p" x="620.9" y="176.4"/><use href="#p" x="691.0" y="166.0"/><use href="#p" x="621.6" y="160.5"/><use href="#p" x="595.5" y="162.4"/><use href="#p" x="664.5" y="169.9"/><use href="#p" x="679.9" y="181.3"/><use href="#p" x="608.5" y="165.3"/><use href="#p" x="618.8" y="166.6"/><use href="#p" x="656.6" y="169.0"/><use href="#p" x="634.6" y="168.3"/><use href="#p" x="651.0" y="171.4"/><use href="#p" x="598.4" y="165.0"/><use href="#p" x="590.2" y="157.5"/><use href="#p" x="683.2" y="162.1"/><use href="#p" x="683.6" y="171.9"/><use href="#p" x="665.2" y="169.9"/><use href="#p" x="642.1" y="156.0"/><use href="#p" x="646.3" y="169.1"/><use href="#p" x="618.4" y="164.7"/><use href="#p" x="690.0" y="160.7"/><use href="#p" x="683.8" y="179.7"/><use href="#p" x="616.9" y="166.4"/><use href="#p" x="639.6" y="176.6"/><use href="#p" x="665.7" y="172.6"/><use href="#p" x="609.4" y="165.1"/><use href="#p" x="647.4" y="153.5"/><use href="#p" x="728.7" y="173.9"/><use href="#p" x="550.0" y="169.2"/><use href="#p" x="640.7" y="169.0"/><use href="#p" x="668.5" y="155.9"/><use href="#p" x="636.1" y="176.2"/><use href="#p" x="615.8" y="158.2"/><use href="#p" x="571.9" y="155.9"/><use href="#p" x="666.8" y="178.2"/><use href="#p" x="672.0" y="168.2"/><use href="#p" x="773.1" y="164.8"/><use href="#p" x="610.3" y="168.9"/><use href="#p" x="678.7" y="159.5"/><use href="#p" x="582.5" y="166.7"/><use href="#p" x="661.9" y="157.1"/><use href="#p" x="636.7" y="161.9"/><use href="#p" x="673.8" y="165.7"/><use href="#p" x="643.2" y="163.4"/><use href="#p" x="707.0" y="176.9"/><use href="#p" x="627.4" y="171.5"/><use href="#p" x="605.6" y="165.6"/><use href="#p" x="690.0" y="177.4"/><use href="#p" x="626.6" y="165.0"/><use href="#p" x="659.0" y="155.7"/><use href="#p" x="648.9" y="161.2"/><use href="#p" x="668.8" y="158.5"/><use href="#p" x="650.1" y="167.8"/><use href="#p" x="617.3" y="171.6"/><use href="#p" x="632.7" y="161.4"/><use href="#p" x="674.8" y="155.5"/><use href="#p" x="610.1" y="165.1"/><use href="#p" x="695.5" y="165.8"/><use href="#p" x="665.3" y="161.7"/><use href="#p" x="664.9" y="177.9"/><use href="#p" x="609.6" y="181.8"/><use href="#p" x="611.9" y="165.4"/><use href="#p" x="657.7" y="173.3"/><use href="#p" x="578.7" y="149.9"/><use href="#p" x="681.9" y="172.2"/><use href="#p" x="659.5" y="168.0"/><use href="#p" x="700.0" y="169.6"/><use href="#p" x="741.2" y="159.2"/><use href="#p" x="693.5" y="164.3"/><use href="#p" x="699.7" y="182.1"/><use href="#p" x="647.7" y="164.2"/><use href="#p" x="620.0" y="159.5"/><use href="#p" x="612.7" y="169.7"/><use href="#p" x="650.1" y="166.5"/><use href="#p" x="638.3" y="172.2"/><use href="#p" x="675.7" y="165.5"/><use href="#p" x="685.2" y="165.6"/><use href="#p" x="583.4" y="174.9"/><use href="#p" x="674.1" y="159.8"/><use href="#p" x="708.4" y="169.6"/><use href="#p" x="560.4" y="175.5"/><use href="#p" x="666.7" y="172.6"/><use href="#p" x="659.1" y="165.1"/><use href="#p" x="561.3" y="171.0"/><use href="#p" x="649.7" y="164.0"/><use href="#p" x="667.7" y="166.9"/><use href="#p" x="685.8" y="164.1"/><use href="#p" x="646.0" y="150.9"/><use href="#p" x="624.3" y="170.2"/><use href="#p" x="722.9" y="164.9"/><use href="#p" x="641.2" y="176.9"/><use href="#p" x="629.8" y="170.7"/><use href="#p" x="742.0" y="168.1"/><use href="#p" x="716.7" y="162.4"/><use href="#p" x="659.6" y="165.7"/><use href="#p" x="654.4" y="174.0"/><use href="#p" x="781.8" y="164.0"/><use href="#p" x="615.8" y="168.8"/><use href="#p" x="588.9" y="168.3"/><use href="#p" x="680.0" y="164.7"/><use href="#p" x="677.7" y="155.7"/><use href="#p" x="690.6" y="156.0"/><use href="#p" x="609.0" y="161.3"/><use href="#p" x="625.5" y="171.5"/><use href="#p" x="652.6" y="163.3"/><use href="#p" x="678.4" y="177.6"/><use href="#p" x="648.3" y="168.5"/><use href="#p" x="717.4" y="169.2"/><use href="#p" x="771.7" y="154.5"/><use href="#p" x="645.8" y="168.8"/><use href="#p" x="702.1" y="171.7"/><use href="#p" x="632.8" y="158.3"/><use href="#p" x="653.8" y="173.3"/><use href="#p" x="587.0" y="157.5"/><use href="#p" x="646.6" y="152.4"/><use href="#p" x="633.4" y="162.6"/><use href="#p" x="673.2" y="161.6"/><use href="#p" x="517.0" y="615.1"/><use href="#p" x="717.7" y="609.3"/><use href="#p" x="652.8" y="654.9"/><use href="#p" x="707.5" y="693.7"/><use href="#p" x="703.9" y="707.9"/><use href="#p" x="566.1" y="754.1"/><use href="#p" x="1345.9" y="823.9"/><use href="#p" x="1353.1" y="139.5"/><use href="#p" x="1360.4" y="134.8"/><use href="#p" x="1395.0" y="136.9"/><use href="#p" x="1403.5" y="173.9"/><use href="#p" x="1425.0" y="181.9"/><use href="#p" x="1449.0" y="180.8"/><use href="#p" x="2129.2" y="161.6"/></g>
<g shape-rendering="crispEdges"><use href="#x" x="450.5" y="161.7"/><use href="#x" x="486.4" y="160.5"/><use href="#x" x="488.4" y="187.3"/><use href="#x" x="515.6" y="154.6"/><use href="#x" x="558.7" y="143.7"/><use href="#x" x="543.8" y="183.8"/><use href="#x" x="571.6" y="181.3"/><use href="#x" x="594.3" y="186.3"/><use href="#x" x="626.0" y="141.7"/><use href="#x" x="547.8" y="158.5"/><use href="#x" x="593.4" y="152.6"/><use href="#x" x="641.8" y="203.6"/><use href="#x" x="683.9" y="200.6"/><use href="#x" x="715.1" y="212.5"/><use href="#x" x="747.8" y="185.3"/><use href="#x" x="807.2" y="184.3"/><use href="#x" x="781.5" y="177.4"/><use href="#x" x="728.0" y="142.7"/><use href="#x" x="750.3" y="139.7"/><use href="#x" x="795.3" y="147.6"/><use href="#x" x="803.3" y="169.4"/><use href="#x" x="626.0" y="140.7"/><use href="#x" x="657.6" y="141.7"/><use href="#x" x="670.5" y="142.2"/><use href="#x" x="679.4" y="144.7"/><use href="#x" x="698.3" y="152.6"/><use href="#x" x="662.6" y="194.0"/><use href="#x" x="722.0" y="186.3"/><use href="#x" x="699.0" y="185.3"/><use href="#x" x="505.0" y="170.0"/><use href="#x" x="525.0" y="172.0"/><use href="#x" x="530.0" y="160.0"/><use href="#x" x="610.0" y="145.0"/><use href="#x" x="640.0" y="143.0"/><use href="#x" x="770.0" y="160.0"/><use href="#x" x="785.0" y="165.0"/><use href="#x" x="790.0" y="178.0"/><use href="#x" x="765.0" y="182.0"/><use href="#x" x="600.0" y="183.0"/><use href="#x" x="620.0" y="186.0"/><use href="#x" x="573.5" y="136.7"/><use href="#x" x="633.7" y="169.3"/><use href="#x" x="635.3" y="163.5"/><use href="#x" x="595.9" y="163.4"/><use href="#x" x="710.3" y="170.2"/><use href="#x" x="706.1" y="168.9"/><use href="#x" x="670.1" y="167.7"/><use href="#x" x="554.7" y="170.1"/><use href="#x" x="676.4" y="170.0"/><use href="#x" x="553.3" y="151.9"/><use href="#x" x="598.2" y="161.7"/><use href="#x" x="665.1" y="166.0"/><use href="#x" x="677.2" y="162.0"/><use href="#x" x="665.3" y="169.1"/><use href="#x" x="611.0" y="177.2"/><use href="#x" x="679.2" y="175.0"/><use href="#x" x="613.3" y="160.1"/><use href="#x" x="628.7" y="164.8"/><use href="#x" x="683.4" y="168.4"/><use href="#x" x="622.9" y="158.8"/><use href="#x" x="618.8" y="173.9"/><use href="#x" x="602.8" y="166.8"/><use href="#x" x="671.9" y="156.0"/><use href="#x" x="650.7" y="175.2"/><use href="#x" x="630.0" y="164.9"/><use href="#x" x="602.2" y="168.5"/><use href="#x" x="644.5" y="155.6"/><use href="#x" x="694.4" y="171.6"/><use href="#x" x="701.0" y="177.1"/><use href="#x" x="668.3" y="167.2"/><use href="#x" x="575.2" y="168.8"/><use href="#x" x="613.7" y="162.1"/><use href="#x" x="577.2" y="157.8"/><use href="#x" x="618.3" y="174.4"/><use href="#x" x="566.4" y="166.0"/><use href="#x" x="728.8" y="171.6"/><use href="#x" x="668.0" y="161.2"/><use href="#x" x="585.3" y="171.5"/><use href="#x" x="709.7" y="168.3"/><use href="#x" x="661.8" y="169.3"/><use href="#x" x="737.3" y="172.1"/><use href="#x" x="677.0" y="170.4"/><use href="#x" x="560.2" y="173.2"/><use href="#x" x="701.5" y="170.7"/><use href="#x" x="612.5" y="171.1"/><use href="#x" x="637.7" y="172.9"/><use href="#x" x="574.6" y="175.8"/><use href="#x" x="678.9" y="165.5"/><use href="#x" x="666.2" y="170.9"/><use href="#x" x="654.7" y="174.1"/><use href="#x" x="611.0" y="162.3"/><use href="#x" x="706.3" y="167.3"/><use href="#x" x="598.7" y="171.6"/><use href="#x" x="730.1" y="164.5"/><use href="#x" x="570.7" y="163.5"/><use href="#x" x="639.7" y="163.7"/><use href="#x" x="726.7" y="160.3"/><use href="#x" x="718.6" y="158.5"/><use href="#x" x="603.9" y="169.5"/><use href="#x" x="711.2" y="173.2"/><use href="#x" x="667.3" y="167.3"/><use href="#x" x="656.5" y="170.2"/><use href="#x" x="638.1" y="167.7"/><use href="#x" x="680.1" y="166.6"/><use href="#x" x="690.8" y="170.8"/><use href="#x" x="760.6" y="170.5"/><use href="#x" x="624.1" y="162.9"/><use href="#x" x="647.3" y="172.4"/><use href="#x" x="629.2" y="168.3"/><use href="#x" x="585.1" y="166.4"/><use href="#x" x="670.3" y="168.1"/><use href="#x" x="623.9" y="170.1"/><use href="#x" x="663.8" y="162.6"/><use href="#x" x="784.1" y="171.2"/><use href="#x" x="617.0" y="164.6"/><use href="#x" x="635.4" y="165.3"/><use href="#x" x="620.7" y="172.5"/><use href="#x" x="582.6" y="164.2"/><use href="#x" x="701.4" y="173.0"/><use href="#x" x="731.5" y="155.7"/><use href="#x" x="628.2" y="163.2"/><use href="#x" x="682.9" y="174.3"/><use href="#x" x="709.0" y="157.0"/><use href="#x" x="686.3" y="156.3"/><use href="#x" x="657.8" y="174.5"/><use href="#x" x="639.6" y="167.1"/><use href="#x" x="692.6" y="167.8"/><use href="#x" x="643.0" y="176.6"/><use href="#x" x="706.7" y="165.1"/><use href="#x" x="583.8" y="171.1"/><use href="#x" x="633.1" y="166.6"/><use href="#x" x="687.5" y="168.3"/><use href="#x" x="683.8" y="156.0"/><use href="#x" x="563.5" y="168.6"/><use href="#x" x="594.1" y="157.7"/><use href="#x" x="565.7" y="173.2"/><use href="#x" x="689.8" y="177.1"/><use href="#x" x="595.5" y="164.9"/><use href="#x" x="584.1" y="170.0"/><use href="#x" x="737.0" y="161.5"/><use href="#x" x="735.4" y="174.6"/><use href="#x" x="638.0" y="152.0"/><use href="#x" x="726.8" y="166.9"/><use href="#x" x="614.2" y="168.1"/><use href="#x" x="671.0" y="176.9"/><use href="#x" x="590.9" y="172.8"/><use href="#x" x="731.3" y="177.8"/><use href="#x" x="637.9" y="160.5"/><use href="#x" x="705.0" y="167.9"/><use href="#x" x="655.0" y="176.1"/><use href="#x" x="633.2" y="149.6"/><use href="#x" x="626.3" y="152.5"/><use href="#x" x="693.9" y="169.1"/><use href="#x" x="613.8" y="165.2"/><use href="#x" x="694.6" y="167.4"/><use href="#x" x="722.3" y="167.0"/><use href="#x" x="706.3" y="177.6"/><use href="#x" x="738.2" y="163.1"/><use href="#x" x="697.3" y="153.8"/><use href="#x" x="587.3" y="151.0"/><use href="#x" x="707.9" y="158.5"/><use href="#x" x="647.3" y="164.6"/><use href="#x" x="646.4" y="161.8"/><use href="#x" x="661.1" y="178.8"/><use href="#x" x="650.5" y="169.7"/><use href="#x" x="704.0" y="165.7"/><use href="#x" x="577.5" y="160.7"/><use href="#x" x="708.1" y="155.6"/><use href="#x" x="614.5" y="172.3"/><use href="#x" x="692.4" y="166.9"/><use href="#x" x="693.1" y="168.0"/><use href="#x" x="582.0" y="153.7"/><use href="#x" x="612.2" y="171.7"/><use href="#x" x="616.3" y="159.0"/><use href="#x" x="604.8" y="154.4"/><use href="#x" x="641.4" y="157.6"/><use href="#x" x="668.4" y="149.8"/><use href="#x" x="666.4" y="161.8"/><use href="#x" x="688.6" y="164.8"/><use href="#x" x="599.0" y="167.0"/><use href="#x" x="622.3" y="170.9"/><use href="#x" x="689.9" y="171.5"/><use href="#x" x="666.3" y="175.7"/><use href="#x" x="685.0" y="169.9"/><use href="#x" x="698.2" y="176.1"/><use href="#x" x="631.4" y="162.3"/><use href="#x" x="756.7" y="155.8"/><use href="#x" x="674.3" y="183.5"/><use href="#x" x="596.1" y="169.7"/><use href="#x" x="753.6" y="167.2"/><use href="#x" x="679.4" y="172.9"/><use href="#x" x="597.3" y="164.3"/><use href="#x" x="664.4" y="172.1"/><use href="#x" x="646.1" y="164.6"/><use href="#x" x="591.1" y="162.3"/><use href="#x" x="697.9" y="167.7"/><use href="#x" x="600.2" y="159.1"/><use href="#x" x="797.3" y="176.9"/><use href="#x" x="682.8" y="170.0"/><use href="#x" x="742.3" y="170.8"/><use href="#x" x="644.2" y="169.5"/><use href="#x" x="705.9" y="169.4"/><use href="#x" x="608.7" y="174.5"/><use href="#x" x="749.3" y="158.2"/><use href="#x" x="610.7" y="167.3"/><use href="#x" x="658.3" y="163.4"/><use href="#x" x="593.4" y="179.7"/><use href="#x" x="706.1" y="158.8"/><use href="#x" x="572.7" y="176.4"/><use href="#x" x="703.4" y="179.8"/><use href="#x" x="693.4" y="160.8"/><use href="#x" x="662.6" y="151.1"/><use href="#x" x="606.1" y="164.7"/><use href="#x" x="677.3" y="161.5"/><use href="#x" x="641.0" y="169.0"/><use href="#x" x="669.1" y="170.8"/><use href="#x" x="659.7" y="163.9"/><use href="#x" x="692.2" y="167.2"/><use href="#x" x="601.7" y="160.7"/><use href="#x" x="648.0" y="165.2"/><use href="#x" x="656.8" y="166.1"/><use href="#x" x="657.8" y="165.2"/><use href="#x" x="577.5" y="167.5"/><use href="#x" x="707.0" y="170.2"/><use href="#x" x="637.4" y="168.9"/><use href="#x" x="593.9" y="151.6"/><use href="#x" x="651.3" y="159.5"/><use href="#x" x="689.4" y="159.2"/><use href="#x" x="589.8" y="175.8"/><use href="#x" x="626.6" y="155.9"/><use href="#x" x="605.3" y="168.8"/><use href="#x" x="675.8" y="167.8"/><use href="#x" x="731.1" y="172.6"/><use href="#x" x="646.8" y="170.1"/><use href="#x" x="740.7" y="174.6"/><use href="#x" x="705.3" y="159.5"/><use href="#x" x="639.7" y="170.9"/><use href="#x" x="631.4" y="173.1"/><use href="#x" x="681.4" y="173.0"/><use href="#x" x="717.4" y="165.8"/><use href="#x" x="628.8" y="171.7"/><use href="#x" x="702.9" y="167.1"/><use href="#x" x="582.6" y="166.0"/><use href="#x" x="668.1" y="174.3"/><use href="#x" x="691.8" y="167.0"/><use href="#x" x="695.8" y="170.7"/><use href="#x" x="659.5" y="166.6"/><use href="#x" x="634.4" y="170.5"/><use href="#x" x="589.0" y="160.4"/><use href="#x" x="648.3" y="155.7"/><use href="#x" x="623.6" y="151.4"/><use href="#x" x="609.8" y="169.2"/><use href="#x" x="679.7" y="166.2"/><use href="#x" x="635.0" y="155.8"/><use href="#x" x="750.4" y="171.6"/><use href="#x" x="709.2" y="161.0"/><use href="#x" x="637.6" y="153.0"/><use href="#x" x="691.7" y="173.4"/><use href="#x" x="645.1" y="170.3"/><use href="#x" x="549.3" y="151.2"/><use href="#x" x="588.4" y="160.4"/><use href="#x" x="569.4" y="164.6"/><use href="#x" x="662.0" y="170.7"/><use href="#x" x="687.3" y="177.3"/><use href="#x" x="713.2" y="158.1"/><use href="#x" x="619.7" y="158.0"/><use href="#x" x="587.7" y="164.2"/><use href="#x" x="648.3" y="169.4"/><use href="#x" x="559.1" y="155.5"/><use href="#x" x="646.7" y="164.5"/><use href="#x" x="630.6" y="165.2"/><use href="#x" x="605.5" y="170.0"/><use href="#x" x="667.8" y="165.7"/><use href="#x" x="610.4" y="164.0"/><use href="#x" x="593.0" y="165.1"/><use href="#x" x="563.8" y="165.7"/><use href="#x" x="656.3" y="156.5"/><use href="#x" x="634.0" y="163.5"/><use href="#x" x="673.8" y="170.8"/><use href="#x" x="646.0" y="160.0"/><use href="#x" x="639.9" y="165.3"/><use href="#x" x="689.1" y="168.8"/><use href="#x" x="607.5" y="155.7"/><use href="#x" x="627.1" y="160.4"/><use href="#x" x="585.7" y="163.9"/><use href="#x" x="620.5" y="166.1"/><use href="#x" x="677.3" y="163.7"/><use href="#x" x="778.2" y="166.3"/><use href="#x" x="709.7" y="168.0"/><use href="#x" x="710.5" y="150.6"/><use href="#x" x="605.9" y="166.8"/><use href="#x" x="681.7" y="183.0"/><use href="#x" x="666.1" y="175.3"/><use href="#x" x="690.9" y="173.5"/><use href="#x" x="676.6" y="165.4"/><use href="#x" x="676.5" y="159.0"/><use href="#x" x="714.2" y="160.2"/><use href="#x" x="662.0" y="181.1"/><use href="#x" x="635.5" y="165.8"/><use href="#x" x="713.1" y="167.4"/><use href="#x" x="602.8" y="166.9"/><use href="#x" x="680.6" y="171.6"/><use href="#x" x="604.7" y="177.4"/><use href="#x" x="741.3" y="168.0"/><use href="#x" x="663.0" y="163.3"/><use href="#x" x="727.2" y="162.6"/><use href="#x" x="685.7" y="163.4"/><use href="#x" x="609.1" y="170.2"/><use href="#x" x="722.7" y="167.4"/><use href="#x" x="610.1" y="170.9"/><use href="#x" x="645.2" y="168.1"/><use href="#x" x="733.3" y="175.6"/><use href="#x" x="618.9" y="181.4"/><use href="#x" x="648.2" y="171.5"/><use href="#x" x="611.7" y="164.9"/><use href="#x" x="550.0" y="176.5"/><use href="#x" x="724.5" y="159.0"/><use href="#x" x="563.7" y="152.9"/><use href="#x" x="713.8" y="164.1"/><use href="#x" x="644.6" y="163.7"/><use href="#x" x="641.2" y="158.2"/><use href="#x" x="649.4" y="155.9"/><use href="#x" x="644.0" y="168.0"/><use href="#x" x="674.2" y="164.9"/><use href="#x" x="597.4" y="166.1"/><use href="#x" x="620.9" y="176.4"/><use href="#x" x="691.0" y="166.0"/><use href="#x" x="621.6" y="160.5"/><use href="#x" x="595.5" y="162.4"/><use href="#x" x="664.5" y="169.9"/><use href="#x" x="679.9" y="181.3"/><use href="#x" x="608.5" y="165.3"/><use href="#x" x="618.8" y="166.6"/><use href="#x" x="656.6" y="169.0"/><use href="#x" x="634.6" y="168.3"/><use href="#x" x="651.0" y="171.4"/><use href="#x" x="598.4" y="165.0"/><use href="#x" x="590.2" y="157.5"/><use href="#x" x="683.2" y="162.1"/><use href="#x" x="683.6" y="171.9"/><use href="#x" x="665.2" y="169.9"/><use href="#x" x="642.1" y="156.0"/><use href="#x" x="646.3" y="169.1"/><use href="#x" x="618.4" y="164.7"/><use href="#x" x="690.0" y="160.7"/><use href="#x" x="683.8" y="179.7"/><use href="#x" x="616.9" y="166.4"/><use href="#x" x="639.6" y="176.6"/><use href="#x" x="665.7" y="172.6"/><use href="#x" x="609.4" y="165.1"/><use href="#x" x="647.4" y="153.5"/><use href="#x" x="728.7" y="173.9"/><use href="#x" x="550.0" y="169.2"/><use href="#x" x="640.7" y="169.0"/><use href="#x" x="668.5" y="155.9"/><use href="#x" x="636.1" y="176.2"/><use href="#x" x="615.8" y="158.2"/><use href="#x" x="571.9" y="155.9"/><use href="#x" x="666.8" y="178.2"/><use href="#x" x="672.0" y="168.2"/><use href="#x" x="773.1" y="164.8"/><use href="#x" x="610.3" y="168.9"/><use href="#x" x="678.7" y="159.5"/><use href="#x" x="582.5" y="166.7"/><use href="#x" x="661.9" y="157.1"/><use href="#x" x="636.7" y="161.9"/><use href="#x" x="673.8" y="165.7"/><use href="#x" x="643.2" y="163.4"/><use href="#x" x="707.0" y="176.9"/><use href="#x" x="627.4" y="171.5"/><use href="#x" x="605.6" y="165.6"/><use href="#x" x="690.0" y="177.4"/><use href="#x" x="626.6" y="165.0"/><use href="#x" x="659.0" y="155.7"/><use href="#x" x="648.9" y="161.2"/><use href="#x" x="668.8" y="158.5"/><use href="#x" x="650.1" y="167.8"/><use href="#x" x="617.3" y="171.6"/><use href="#x" x="632.7" y="161.4"/><use href="#x" x="674.8" y="155.5"/><use href="#x" x="610.1" y="165.1"/><use href="#x" x="695.5" y="165.8"/><use href="#x" x="665.3" y="161.7"/><use href="#x" x="664.9" y="177.9"/><use href="#x" x="609.6" y="181.8"/><use href="#x" x="611.9" y="165.4"/><use href="#x" x="657.7" y="173.3"/><use href="#x" x="578.7" y="149.9"/><use href="#x" x="681.9" y="172.2"/><use href="#x" x="659.5" y="168.0"/><use href="#x" x="700.0" y="169.6"/><use href="#x" x="741.2" y="159.2"/><use href="#x" x="693.5" y="164.3"/><use href="#x" x="699.7" y="182.1"/><use href="#x" x="647.7" y="164.2"/><use href="#x" x="620.0" y="159.5"/><use href="#x" x="612.7" y="169.7"/><use href="#x" x="650.1" y="166.5"/><use href="#x" x="638.3" y="172.2"/><use href="#x" x="675.7" y="165.5"/><use href="#x" x="685.2" y="165.6"/><use href="#x" x="583.4" y="174.9"/><use href="#x" x="674.1" y="159.8"/><use href="#x" x="708.4" y="169.6"/><use href="#x" x="560.4" y="175.5"/><use href="#x" x="666.7" y="172.6"/><use href="#x" x="659.1" y="165.1"/><use href="#x" x="561.3" y="171.0"/><use href="#x" x="649.7" y="164.0"/><use href="#x" x="667.7" y="166.9"/><use href="#x" x="685.8" y="164.1"/><use href="#x" x="646.0" y="150.9"/><use href="#x" x="624.3" y="170.2"/><use href="#x" x="722.9" y="164.9"/><use href="#x" x="641.2" y="176.9"/><use href="#x" x="629.8" y="170.7"/><use href="#x" x="742.0" y="168.1"/><use href="#x" x="716.7" y="162.4"/><use href="#x" x="659.6" y="165.7"/><use href="#x" x="654.4" y="174.0"/><use href="#x" x="781.8" y="164.0"/><use href="#x" x="615.8" y="168.8"/><use href="#x" x="588.9" y="168.3"/><use href="#x" x="680.0" y="164.7"/><use href="#x" x="677.7" y="155.7"/><use href="#x" x="690.6" y="156.0"/><use href="#x" x="609.0" y="161.3"/><use href="#x" x="625.5" y="171.5"/><use href="#x" x="652.6" y="163.3"/><use href="#x" x="678.4" y="177.6"/><use href="#x" x="648.3" y="168.5"/><use href="#x" x="717.4" y="169.2"/><use href="#x" x="771.7" y="154.5"/><use href="#x" x="645.8" y="168.8"/><use href="#x" x="702.1" y="171.7"/><use href="#x" x="632.8" y="158.3"/><use href="#x" x="653.8" y="173.3"/><use href="#x" x="587.0" y="157.5"/><use href="#x" x="646.6" y="152.4"/><use href="#x" x="633.4" y="162.6"/><use href="#x" x="673.2" y="161.6"/><use href="#x" x="707.5" y="693.7"/><use href="#x" x="703.9" y="707.9"/><use href="#x" x="566.1" y="754.1"/><use href="#x" x="766.8" y="690.0"/><use href="#x" x="570.0" y="729.7"/><use href="#x" x="606.9" y="760.1"/><use href="#x" x="670.1" y="730.0"/><use href="#x" x="726.8" y="765.4"/><use href="#x" x="639.0" y="817.1"/><use href="#x" x="535.9" y="860.0"/><use href="#x" x="573.8" y="944.0"/><use href="#x" x="547.7" y="974.1"/><use href="#x" x="720.8" y="1005.1"/><use href="#x" x="758.3" y="1320.0"/><use href="#x" x="673.0" y="1392.9"/><use href="#x" x="1293.6" y="868.0"/><use href="#x" x="1282.0" y="878.0"/><use href="#x" x="1352.0" y="177.0"/><use href="#x" x="1586.9" y="154.0"/><use href="#x" x="1797.5" y="161.9"/><use href="#x" x="1420.9" y="175.1"/><use href="#x" x="1345.9" y="823.9"/><use href="#x" x="1403.5" y="173.9"/><use href="#x" x="1425.0" y="181.9"/><use href="#x" x="1449.0" y="180.8"/></g>
<path d="M871.10 197.72A260.75 68.30 0 0 0 868.98 148.06M852.25 139.13A260.75 68.30 0 0 0 821.12 127.96M802.77 123.11A260.75 68.30 0 0 0 770.34 116.52M751.59 113.58A260.75 68.30 0 0 0 718.73 109.65M699.82 108.01A260.75 68.30 0 0 0 666.77 106.09M647.80 105.51A260.75 68.30 0 0 0 614.71 105.38M595.73 105.80A260.75 68.30 0 0 0 562.67 107.42M543.75 108.89A260.75 68.30 0 0 0 510.85 112.47M492.06 115.18A260.75 68.30 0 0 0 459.53 121.28M441.09 125.75A260.75 68.30 0 0 0 409.62 135.94M392.39 143.88A260.75 68.30 0 0 0 368.17 165.65M369.34 183.83A260.75 68.30 0 0 0 394.65 204.52M412.00 212.19A260.75 68.30 0 0 0 443.56 222.10M462.03 226.46A260.75 68.30 0 0 0 494.59 232.42M513.38 235.06A260.75 68.30 0 0 0 546.30 238.53M565.23 239.95A260.75 68.30 0 0 0 598.29 241.48M617.26 241.85A260.75 68.30 0 0 0 650.36 241.63M669.33 241.00A260.75 68.30 0 0 0 702.37 239.00M721.27 237.30A260.75 68.30 0 0 0 754.12 233.26M772.86 230.24A260.75 68.30 0 0 0 805.26 223.48M823.57 218.52A260.75 68.30 0 0 0 854.58 207.01" fill="none" stroke="#000" stroke-width="6.2"/>
<path d="M570.2 379.5L596 283" stroke="#000" stroke-width="3.6" fill="none"/>
<path d="M605.3 241.6L571.2 289.2L595 281.1L612.2 299.6Z" fill="#000" stroke="#000" stroke-width="1.6" stroke-linejoin="round"/>
<rect x="298.3" y="381.6" width="599.6" height="124.2" fill="none" stroke="#000" stroke-width="6.2"/>
<text class="sf k" x="324" y="461.8" textLength="543" lengthAdjust="spacingAndGlyphs" fill="#000">Desirable Points</text>
<rect x="1274.9" y="407.9" width="416.1" height="296.1" fill="#fff" stroke="#262626" stroke-width="3.6"/>
<g shape-rendering="crispEdges"><use href="#c" x="1372" y="461.9"/><use href="#p" x="1372" y="555.8"/><use href="#x" x="1372" y="649.7"/></g>
<text class="sf k" x="1465.3" y="481.3" textLength="121" lengthAdjust="spacingAndGlyphs" fill="#000">EM</text>
<text class="sf k" x="1465.3" y="574.6" textLength="190.7" lengthAdjust="spacingAndGlyphs" fill="#000">MEM</text>
<text class="sf k" x="1463.4" y="668" textLength="211.6" lengthAdjust="spacingAndGlyphs" fill="#000">SAGE</text>
<text class="tk" transform="translate(217.5 1605.1) scale(1.07 1)" text-anchor="middle">10</text>
<text class="tk" transform="translate(510.6 1605.1) scale(1.07 1)" text-anchor="middle">20</text>
<text class="tk" transform="translate(803.6 1605.1) scale(1.07 1)" text-anchor="middle">30</text>
<text class="tk" transform="translate(1096.7 1605.1) scale(1.07 1)" text-anchor="middle">40</text>
<text class="tk" transform="translate(1389.7 1605.1) scale(1.07 1)" text-anchor="middle">50</text>
<text class="tk" transform="translate(1682.8 1605.1) scale(1.07 1)" text-anchor="middle">60</text>
<text class="tk" transform="translate(1975.8 1605.1) scale(1.07 1)" text-anchor="middle">70</text>
<text class="tk" transform="translate(2268.9 1605.1) scale(1.07 1)" text-anchor="middle">80</text>
<text class="tk" transform="translate(195.5 1549.7) scale(1.07 1)" text-anchor="end">20</text>
<text class="tk" transform="translate(195.5 1302.2) scale(1.07 1)" text-anchor="end">30</text>
<text class="tk" transform="translate(195.5 1054.6) scale(1.07 1)" text-anchor="end">40</text>
<text class="tk" transform="translate(195.5 807.1) scale(1.07 1)" text-anchor="end">50</text>
<text class="tk" transform="translate(195.5 559.6) scale(1.07 1)" text-anchor="end">60</text>
<text class="tk" transform="translate(195.5 312.0) scale(1.07 1)" text-anchor="end">70</text>
<text class="tk" transform="translate(195.5 64.5) scale(1.07 1)" text-anchor="end">80</text>
<g fill="#262626" stroke="#262626" class="lb" transform="translate(860.3 1688.6)">
<text class="sf" x="-2.8" y="0" textLength="298.7" lengthAdjust="spacingAndGlyphs">Estimate</text>
<text class="sf" x="317.7" y="0" textLength="67.4" lengthAdjust="spacingAndGlyphs">of</text>
<text class="sf" x="404.2" y="0" font-style="italic" textLength="42.4" lengthAdjust="spacingAndGlyphs">η</text>
<text class="sf" x="443" y="11.8" style="font-size:54px">1</text>
<text class="sf" x="502.8" y="0" textLength="265.2" lengthAdjust="spacingAndGlyphs">(degree)</text>
</g>
<g fill="#262626" stroke="#262626" class="lb" transform="translate(91.4 1171.2) rotate(-90)">
<text class="sf" x="-2.8" y="0" textLength="298.7" lengthAdjust="spacingAndGlyphs">Estimate</text>
<text class="sf" x="317.7" y="0" textLength="67.4" lengthAdjust="spacingAndGlyphs">of</text>
<text class="sf" x="404.2" y="0" font-style="italic" textLength="42.4" lengthAdjust="spacingAndGlyphs">η</text>
<text class="sf" x="443" y="11.8" style="font-size:54px">2</text>
<text class="sf" x="502.8" y="0" textLength="265.2" lengthAdjust="spacingAndGlyphs">(degree)</text>
</g>
</svg></body></html>
